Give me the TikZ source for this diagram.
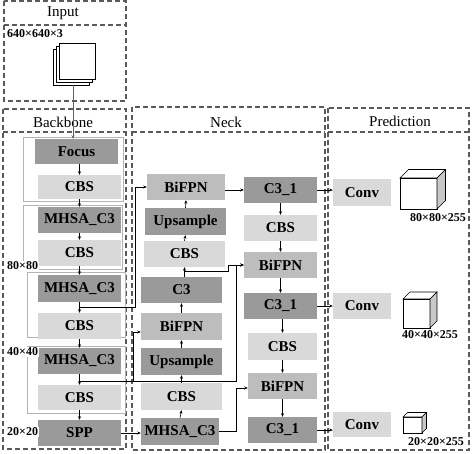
\documentclass[tikz,border=0pt]{standalone}
\usepackage{fontspec}
\setmainfont{Liberation Serif}
\usetikzlibrary{calc,arrows.meta}
\definecolor{dk}{HTML}{9A9A9A}
\definecolor{md}{HTML}{BDBDBD}
\definecolor{lt}{HTML}{D9D9D9}
\definecolor{frm}{HTML}{5A5A5A}
\definecolor{grp}{HTML}{B4B4B4}
\definecolor{side}{HTML}{C8C8C8}
\newcommand\bxfont{\fontsize{15}{15}\selectfont\bfseries}
\newcommand\dimfont{\fontsize{12}{12}\selectfont\bfseries}
\newcommand\ttlfont{\fontsize{15}{15}\selectfont}
\begin{document}
\begin{tikzpicture}[x=1pt,y=-1pt,
  bx/.style={inner sep=0pt,font=\bxfont,text=black},
  bxd/.style={bx,fill=dk},
  bxm/.style={bx,fill=md},
  bxl/.style={bx,fill=lt},
  frame/.style={draw=frm,line width=1.1pt,dash pattern=on 5pt off 3pt},
  grpbox/.style={draw=grp,line width=0.8pt},
  ttl/.style={font=\ttlfont,inner sep=0pt},
  dimlbl/.style={font=\dimfont,inner sep=1pt},
  arr/.style={line width=0.8pt,-{Stealth[length=3.5pt,width=3pt]}},
  cube/.style={draw=black,line width=0.6pt}]
\useasboundingbox (0,0) rectangle (474,454);
% frames
\draw[frame] (4,1) rectangle (126,101);
\draw[frame] (4,25) -- (126,25);
\draw[frame] (3,109) rectangle (126,449);
\draw[frame] (3,132) -- (126,132);
\draw[frame] (132,107) rectangle (325,450);
\draw[frame] (132,132) -- (325,132);
\draw[frame] (328,108) rectangle (469,450);
\draw[frame] (328,132) -- (469,132);
\node[ttl] (tin) at (63,13) {Input};
\node[ttl] (tbb) at (63,122) {Backbone};
\node[ttl] (tnk) at (226,122) {Neck};
\node[ttl] (tpr) at (400,121) {Prediction};
% input stack
\draw[cube,fill=white] (53,49) rectangle (89,85);
\draw[cube,fill=white] (56,46) rectangle (92,82);
\draw[cube,fill=white] (59,43) rectangle (95,79);
\coordinate (stk) at (73,85);
\node[dimlbl,anchor=west] (lin) at (6,34) {640×640×3};
% backbone groups
\draw[grpbox] (23,137) rectangle (123,201);
\draw[grpbox] (23,205) rectangle (122,269);
\draw[grpbox] (27,272) rectangle (125,337);
\draw[grpbox] (27,346) rectangle (125,413);
% backbone boxes
\node[bxd,minimum width=83pt,minimum height=25pt] (focus) at (76.5,151.5) {Focus};
\node[bxl,minimum width=83pt,minimum height=24pt] (cbs1) at (79.5,187) {CBS};
\node[bxd,minimum width=83pt,minimum height=26pt] (mh1) at (79.5,220) {MHSA\_C3};
\node[bxl,minimum width=83pt,minimum height=26pt] (cbs2) at (79.5,253) {CBS};
\node[bxd,minimum width=83pt,minimum height=27pt] (mh2) at (79.5,288.5) {MHSA\_C3};
\node[bxl,minimum width=83pt,minimum height=26pt] (cbs3) at (79.5,326) {CBS};
\node[bxd,minimum width=83pt,minimum height=26pt] (mh3) at (79.5,361) {MHSA\_C3};
\node[bxl,minimum width=83pt,minimum height=25pt] (cbs4) at (79.5,397.5) {CBS};
\node[bxd,minimum width=83pt,minimum height=26pt] (spp) at (79.5,433) {SPP};
\node[dimlbl,anchor=west,fill=white] (l80) at (6,266) {80×80};
\node[dimlbl,anchor=west,fill=white] (l40) at (6,352) {40×40};
\node[dimlbl,anchor=west,fill=white] (l20) at (6,432) {20×20};
% neck left column
\node[bxm,minimum width=78pt,minimum height=26pt] (bif1) at (186,187) {BiFPN};
\node[bxd,minimum width=81pt,minimum height=27pt] (ups1) at (185.5,221.5) {Upsample};
\node[bxl,minimum width=81pt,minimum height=26pt] (cbsn1) at (184.5,254) {CBS};
\node[bxd,minimum width=81pt,minimum height=26pt] (c3) at (181.5,290) {C3};
\node[bxm,minimum width=81pt,minimum height=27pt] (bif2) at (181.5,326.5) {BiFPN};
\node[bxd,minimum width=81pt,minimum height=27pt] (ups2) at (181.5,361.5) {Upsample};
\node[bxl,minimum width=81pt,minimum height=27pt] (cbsn2) at (181.5,396.5) {CBS};
\node[bxd,minimum width=78pt,minimum height=27pt] (mhn) at (180,431.5) {MHSA\_C3};
% neck right column
\node[bxd,minimum width=73pt,minimum height=26pt] (c31) at (280.5,190) {C3\_1};
\node[bxl,minimum width=73pt,minimum height=26pt] (cbsr1) at (280.5,228) {CBS};
\node[bxm,minimum width=73pt,minimum height=26pt] (bifr1) at (280.5,265) {BiFPN};
\node[bxd,minimum width=73pt,minimum height=26pt] (c32) at (280.5,306) {C3\_1};
\node[bxl,minimum width=69pt,minimum height=27pt] (cbsr2) at (282.5,346.5) {CBS};
\node[bxm,minimum width=69pt,minimum height=26pt] (bifr2) at (282.5,386) {BiFPN};
\node[bxd,minimum width=69pt,minimum height=26pt] (c33) at (282.5,430) {C3\_1};
% prediction
\node[bxl,minimum width=58pt,minimum height=27pt] (conv1) at (362,192.5) {Conv};
\node[bxl,minimum width=58pt,minimum height=26pt] (conv2) at (362,306) {Conv};
\node[bxl,minimum width=58pt,minimum height=25pt] (conv3) at (362,424.5) {Conv};
% cubes
\draw[cube,fill=white] (400,178) rectangle (437,209);
\draw[cube,fill=white] (400,178) -- (408.5,169.5) -- (445.5,169.5) -- (437,178) -- cycle;
\draw[cube,fill=side] (437,178) -- (445.5,169.5) -- (445.5,200.5) -- (437,209) -- cycle;
\draw[cube,fill=white] (403,299) rectangle (430,328);
\draw[cube,fill=white] (403,299) -- (410,292) -- (437,292) -- (430,299) -- cycle;
\draw[cube,fill=side] (430,299) -- (437,292) -- (437,321) -- (430,328) -- cycle;
\draw[cube,fill=white] (403,417) rectangle (422,433);
\draw[cube,fill=white] (403,417) -- (407.5,412.5) -- (426.5,412.5) -- (422,417) -- cycle;
\draw[cube,fill=side] (422,417) -- (426.5,412.5) -- (426.5,428.5) -- (422,433) -- cycle;
\node[dimlbl] (d80) at (438,218) {80×80×255};
\node[dimlbl] (d40) at (430,335) {40×40×255};
\node[dimlbl] (d20) at (436,442) {20×20×255};
% backbone arrows
\draw[arr,draw=gray!75!black] (stk) -- (stk |- focus.north);
\draw[arr,line width=0.6pt] (focus.south -| cbs1) -- (cbs1.north);
\draw[arr,line width=0.6pt] (cbs1.south) -- (mh1.north);
\draw[arr,line width=0.6pt] (mh1.south) -- (cbs2.north);
\draw[arr,line width=0.6pt] (cbs2.south) -- (mh2.north);
\draw[arr,line width=0.6pt] (mh2.south) -- (cbs3.north);
\draw[arr,line width=0.6pt] (cbs3.south) -- (mh3.north);
\draw[arr,line width=0.6pt] (mh3.south) -- (cbs4.north);
\draw[arr,line width=0.6pt] (cbs4.south) -- (spp.north);
% cross connectors
\coordinate (xa) at (135,0);
\coordinate (xa2) at (133.5,0);
\coordinate (xc) at (228,0);
\coordinate (j1) at ($(mh2.south)!.5!(cbs3.north)$);
\coordinate (j2) at ($(mh3.south)!.5!(cbs4.north)+(0,1.5)$);
\coordinate (j3) at ($(cbsn1.south)+(0,4)$);
\draw[arr] (j1) -- (j1 -| xa) |- (bif1.west);
\draw[arr] (j2) -| ($(bifr1.west)+(-7,0)$) -- (bifr1.west);
\draw[arr] (j2 -| xa2) |- ($(bif2.west)+(0,5.5)$);
\draw[arr] (j3) -- (j3 -| xc) |- (bifr1.west);
\draw[arr] (spp.east) -- (spp.east -| mhn.west);
\draw[arr] (mhn.east) -| ($(bifr2.west)+(-11,2)$) -- ($(bifr2.west)+(0,2)$);
% neck left column arrows
\draw[arr,line width=0.6pt] (mhn.north) -- (cbsn2.south);
\draw[arr,line width=0.6pt] (cbsn2.north) -- (ups2.south);
\draw[arr,line width=0.6pt] (ups2.north) -- (bif2.south);
\draw[arr,line width=0.6pt] (bif2.north) -- (c3.south);
\draw[arr,line width=0.6pt] (c3.north -| cbsn1) -- (cbsn1.south);
\draw[arr,line width=0.6pt] (cbsn1.north) -- (ups1.south);
\draw[arr,line width=0.6pt] (ups1.north) -- (bif1.south);
\draw[arr] (c31.west -| bif1.east) -- (c31.west);
% neck right column arrows
\draw[arr,line width=0.6pt] (c31.south) -- (cbsr1.north);
\draw[arr,line width=0.6pt] (cbsr1.south) -- (bifr1.north);
\draw[arr,line width=0.6pt] (bifr1.south) -- (c32.north);
\draw[arr,line width=0.6pt] (c32.south -| cbsr2) -- (cbsr2.north);
\draw[arr,line width=0.6pt] (cbsr2.south) -- (bifr2.north);
\draw[arr,line width=0.6pt] (bifr2.south) -- (c33.north);
% to prediction
\draw[arr] (c31.east) -- (c31.east -| conv1.west);
\draw[arr] (c32.east) -- (c32.east -| conv2.west);
\draw[arr] (c33.east) -- (c33.east -| conv3.west);
\end{tikzpicture}
\end{document}
